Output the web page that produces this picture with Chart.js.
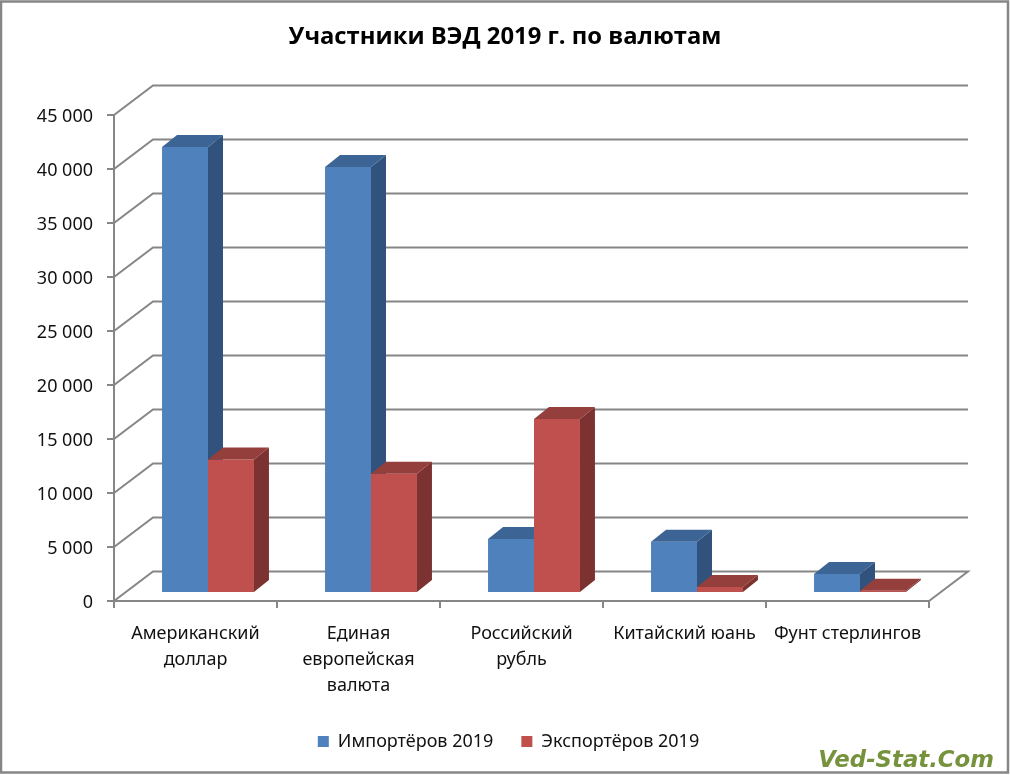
<!DOCTYPE html>
<html>
<head>
<meta charset="utf-8">
<script src="https://cdn.jsdelivr.net/npm/chart.js@4"></script>
<style>
    html, body { margin: 0; padding: 0; background: #fff; }
    #wrap { width: 1010px; height: 775px; }
</style>
</head>
<body>
<div id="wrap"><canvas id="main_chart" width="1010" height="775"></canvas></div>
<script>
const categories = [
    ['Американский', 'доллар'],
    ['Единая', 'европейская', 'валюта'],
    ['Российский', 'рубль'],
    'Китайский юань',
    'Фунт стерлингов'
];
const importers = [41300, 39450, 5000, 4750, 1750];
const exporters = [12350, 11050, 16100, 550, 200];

const GREY = '#868686';
const TEXT = '#111';
const LABEL_FONT = '"Noto Sans", sans-serif';

// depth of the fake 3D box
const wall = { dx: 39, dy: -29.5 };
const plane = { dx: 12.5, dy: -8 };
const depth = { dx: 15, dy: -12 };

const faces = [
    { top: '#3c6494', side: '#30527c' },
    { top: '#953f3c', side: '#7b3230' }
];

const frame = {
    id: 'frame',
    afterLayout(chart) {
        // legend sits a little right of the page centre
        chart.legend.left += 3.5;
        chart.legend.right += 3.5;
    },
    beforeDraw(chart) {
        const ctx = chart.ctx;
        ctx.save();
        ctx.fillStyle = '#fff';
        ctx.fillRect(0, 0, chart.width, chart.height);
        ctx.strokeStyle = GREY;
        ctx.lineWidth = 2.5;
        ctx.strokeRect(1, 1.5, 1007, 771);
        ctx.restore();
    },
    afterDraw(chart) {
        const ctx = chart.ctx;
        ctx.save();
        ctx.fillStyle = '#76923c';
        ctx.font = 'italic bold 22.8px "DejaVu Sans"';
        ctx.textAlign = 'right';
        ctx.fillText('Ved-Stat.Com', 994, 761);
        ctx.restore();
    }
};

function drawFaces(ctx, meta, c) {
    meta.data.forEach(bar => {
        const p = bar.getProps(['x', 'y', 'base', 'width'], true);
        const l = p.x - p.width / 2;
        const r = p.x + p.width / 2;
        ctx.fillStyle = c.side;
        ctx.beginPath();
        ctx.moveTo(r, p.y);
        ctx.lineTo(r + depth.dx, p.y + depth.dy);
        ctx.lineTo(r + depth.dx, p.base + depth.dy);
        ctx.lineTo(r, p.base);
        ctx.closePath();
        ctx.fill();
        ctx.fillStyle = c.top;
        ctx.beginPath();
        ctx.moveTo(l, p.y);
        ctx.lineTo(l + depth.dx, p.y + depth.dy);
        ctx.lineTo(r + depth.dx, p.y + depth.dy);
        ctx.lineTo(r, p.y);
        ctx.closePath();
        ctx.fill();
    });
}

const box = {
    id: 'box',
    beforeDatasetsDraw(chart) {
        const ctx = chart.ctx;
        const area = chart.chartArea;
        const y = chart.scales.y;
        ctx.save();
        ctx.strokeStyle = GREY;
        ctx.lineWidth = 2;
        y.ticks.forEach(t => {
            const py = y.getPixelForValue(t.value);
            ctx.beginPath();
            ctx.moveTo(area.left, py);
            ctx.lineTo(area.left + wall.dx, py + wall.dy);
            ctx.lineTo(area.right + wall.dx, py + wall.dy);
            if (t.value === 0) ctx.lineTo(area.right, py);
            ctx.stroke();
        });
        // red has to land on top of the blue side face, so draw in index order
        ctx.translate(plane.dx, plane.dy);
        chart.data.datasets.forEach((ds, i) => {
            const meta = chart.getDatasetMeta(i);
            meta.controller.draw();
            drawFaces(ctx, meta, faces[i]);
        });
        ctx.restore();
        return false;
    }
};

new Chart(document.getElementById('main_chart'), {
    type: 'bar',
    data: {
        labels: categories,
        datasets: [{
            label: 'Импортёров 2019',
            data: importers,
            backgroundColor: '#4f81bd'
        }, {
            label: 'Экспортёров 2019',
            data: exporters,
            backgroundColor: '#c0504d'
        }]
    },
    options: {
        responsive: false,
        animation: false,
        layout: { padding: { left: 0, right: 0, top: 0, bottom: 14.5 } },
        datasets: { bar: { barPercentage: 1, categoryPercentage: 0.564 } },
        scales: {
            x: {
                afterFit: s => { s.height = 103.5; },
                border: { color: GREY, width: 2 },
                grid: { drawOnChartArea: false, color: GREY, lineWidth: 2, tickLength: 7 },
                ticks: {
                    autoSkip: false,
                    maxRotation: 0,
                    padding: 13,
                    color: TEXT,
                    font: { family: LABEL_FONT, size: 18, lineHeight: 1.45 }
                }
            },
            y: {
                min: 0,
                max: 45000,
                afterFit: s => { s.width = 114; },
                border: { color: GREY, width: 2 },
                grid: { drawOnChartArea: false, color: GREY, lineWidth: 2, tickLength: 7 },
                ticks: {
                    stepSize: 5000,
                    padding: 14,
                    labelOffset: 1.5,
                    color: TEXT,
                    font: { family: LABEL_FONT, size: 18 },
                    callback: v => String(v).replace(/\B(?=(\d{3})+$)/g, ' ')
                }
            },
            // empty axis, keeps the plot clear of the right edge without moving title and legend
            rightGap: {
                position: 'right',
                afterFit: s => { s.width = 81; },
                border: { display: false },
                grid: { display: false },
                ticks: { display: false }
            }
        },
        plugins: {
            title: {
                display: true,
                text: 'Участники ВЭД 2019 г. по валютам',
                color: '#000',
                font: { family: '"Open Sans", sans-serif', size: 23.8, weight: 'bold', lineHeight: 1.2 },
                padding: { top: 23, bottom: 63.4 }
            },
            legend: {
                position: 'bottom',
                labels: {
                    boxWidth: 11,
                    boxHeight: 11,
                    padding: 28,
                    color: TEXT,
                    font: { family: LABEL_FONT, size: 18 }
                }
            },
            tooltip: { enabled: false }
        }
    },
    plugins: [frame, box]
});
</script>
</body>
</html>
